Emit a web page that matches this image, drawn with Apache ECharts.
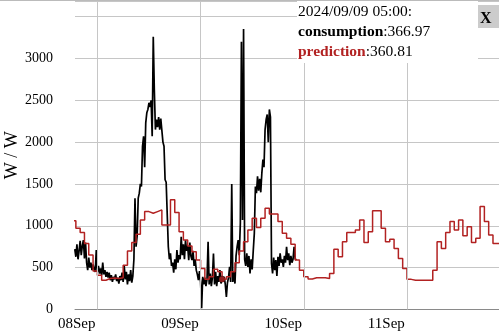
<!DOCTYPE html>
<html><head><meta charset="utf-8">
<script src="https://cdn.jsdelivr.net/npm/echarts@6/dist/echarts.min.js"></script>
<style>html,body{margin:0;padding:0;background:#fff}#c{width:499px;height:334px}</style>
</head><body><div id="c"></div>
<script>
const FONT = '"Liberation Serif", "DejaVu Serif", serif';
// x axis is in hours since 2024-09-08 00:00
const dayLabels = ['08Sep', '09Sep', '10Sep', '11Sep'];
const dayLabelHours = [-4.8, 19.2, 43.2, 67.2];
const dayGridHours = [0, 24, 48, 72];
const yTickValues = [0, 500, 1000, 1500, 2000, 2500, 3000, 3500];

const consumptionStart = -5.25;   // hour of first sample
const consumptionStep = 0.25;     // 15 minutes
const consumption = [
  720,630,780,600,700,820,650,760,830,610,800,
  560,470,620,500,560,470,540,480,450,710,
  450,520,430,490,410,560,420,470,390,450,
  380,440,350,410,330,390,360,420,340,380,310,400,350,440,330,
  520,360,450,300,420,
  340,470,320,400,600,1330,750,880,1330,1390,1500,1470,1950,2070,1700,2230,2350,2390,2470,2420,
  2500,2070,3260,2620,2150,2270,2180,2300,2150,2280,2140,2000,1950,1550,1520,1510,750,600,670,520,
  560,440,600,480,710,560,650,600,870,650,780,600,830,700,760,590,800,640,590,700,
  520,600,470,420,350,460,330,15,390,300,380,280,360,810,300,430,280,380,670,300,
  450,280,400,330,470,310,366.97,330,390,300,150,320,380,510,330,1500,330,450,310,640,
  750,830,650,1030,3200,1070,3350,600,520,670,510,640,430,600,480,700,910,1470,1390,1590,
  1420,1560,1400,1630,1790,1700,2150,2270,2330,2000,2390,2300,550,430,620,470,590,400,630,520,
  670,560,600,510,640,560,750,590,670,530,640,560,600,750,610,590
];

const predictionStart = -6;       // hour of first hourly value
const predictionStep = 1;
const prediction = [
  1060,970,920,790,650,460,410,350,370,375,370,380,530,700,800,900,1070,1170,1150,1170,
  1190,1010,1010,1310,1160,930,830,760,690,590,490,360,390,480,450,360.81,390,450,560,700,
  810,950,1090,980,1090,1210,1140,1140,1050,910,850,780,590,470,390,365,380,380,380,370,
  430,720,630,810,920,920,950,1070,800,930,1180,1180,970,810,840,730,610,490,360,350,
  350,350,350,350,470,810,730,920,1050,950,1070,880,990,800,850,1230,1050,890,790,790,790
];

const hoverHour = 29;
const hoverLabel = '2024/09/09 05:00';

const consData = consumption.map((v, i) => [consumptionStart + i * consumptionStep, v]);
const predData = prediction.map((v, i) => [predictionStart + i * predictionStep, v]);
const hoverCons = consumption[Math.round((hoverHour - consumptionStart) / consumptionStep)];
const hoverPred = prediction[Math.round((hoverHour - predictionStart) / predictionStep)];

const GRID = '#c6c6c6';
const AXIS = '#8a8a8a';
const RED = '#b22222';

const chart = echarts.init(document.getElementById('c'), null, {renderer: 'canvas'});
chart.setOption({
  animation: false,
  textStyle: {fontFamily: FONT},
  grid: {left: 75, right: 0, top: 1, bottom: 24.5, containLabel: false, outerBoundsMode: 'none'},
  xAxis: {
    type: 'value', min: -5.2, max: 93.4,
    axisLine: {show: true, lineStyle: {color: AXIS, width: 1}},
    axisTick: {show: false},
    splitLine: {show: false},
    axisLabel: {
      customValues: dayLabelHours,
      formatter: v => { const i = dayLabelHours.findIndex(h => Math.abs(h - v) < 0.01); return i >= 0 ? dayLabels[i] : ''; },
      fontFamily: FONT, fontSize: 15, color: '#000', margin: 7, hideOverlap: false
    }
  },
  yAxis: {
    type: 'value', min: 0, max: 3686, interval: 500,
    name: 'W / W', nameLocation: 'middle', nameGap: 54, nameRotate: 90, nameMoveOverlap: false,
    nameTextStyle: {fontFamily: FONT, fontSize: 18, color: '#000'},
    axisLine: {show: true, lineStyle: {color: AXIS, width: 1}},
    axisTick: {show: false},
    splitLine: {show: true, lineStyle: {color: GRID, width: 1}},
    axisLabel: {
      customValues: yTickValues,
      formatter: v => String(v),
      fontFamily: FONT, fontSize: 14, color: '#000', margin: 22, showMaxLabel: false
    }
  },
  series: [
    {
      type: 'line', data: [[-100, -100], [-99, -100]], silent: true, z: 1, showSymbol: false,
      lineStyle: {width: 0},
      markLine: {
        silent: true, symbol: ['none', 'none'], label: {show: false},
        lineStyle: {color: GRID, width: 1, type: 'solid'},
        data: dayGridHours.map(h => ({xAxis: h}))
      }
    },
    {
      name: 'consumption', type: 'line', data: consData, showSymbol: false, z: 3,
      lineStyle: {color: '#000', width: 1.7}, itemStyle: {color: '#000'}
    },
    {
      name: 'prediction', type: 'line', data: predData, step: 'end', showSymbol: false, z: 4,
      lineStyle: {color: RED, width: 1.5}, itemStyle: {color: RED}
    },
    {
      type: 'scatter', data: [[hoverHour, hoverCons]], symbolSize: 6, z: 5,
      itemStyle: {color: '#000'}
    },
    {
      type: 'scatter', data: [[hoverHour, hoverPred]], symbolSize: 6, z: 6,
      itemStyle: {color: RED}
    }
  ],
  graphic: [
    {type: 'line', shape: {x1: 0, y1: 0.5, x2: 499, y2: 0.5}, style: {stroke: '#bbb', lineWidth: 1}, z: 10},
    {type: 'rect', shape: {x: 297, y: 1, width: 181, height: 62}, style: {fill: '#fff'}, z: 10},
    {type: 'text', x: 298, y: 12, z: 11,
      style: {text: hoverLabel + ':', font: '15.5px ' + FONT, fill: '#000', verticalAlign: 'middle'}},
    {type: 'text', x: 298, y: 32, z: 11,
      style: {text: '{b|consumption}:' + hoverCons.toFixed(2), font: '15.5px ' + FONT, fill: '#000', verticalAlign: 'middle',
        rich: {b: {fontWeight: 'bold', fontFamily: FONT, fontSize: 15.5, fill: '#000'}}}},
    {type: 'text', x: 298, y: 51.5, z: 11,
      style: {text: '{r|prediction}:' + hoverPred.toFixed(2), font: '15.5px ' + FONT, fill: '#000', verticalAlign: 'middle',
        rich: {r: {fontWeight: 'bold', fontFamily: FONT, fontSize: 15.5, fill: RED}}}},
    {type: 'rect', shape: {x: 478, y: 5, width: 30, height: 23}, style: {fill: '#cccccc'}, z: 10},
    {type: 'text', x: 480, y: 18.5, z: 11,
      style: {text: 'X', font: 'bold 16px ' + FONT, fill: '#000', verticalAlign: 'middle'}}
  ]
});
</script></body></html>
